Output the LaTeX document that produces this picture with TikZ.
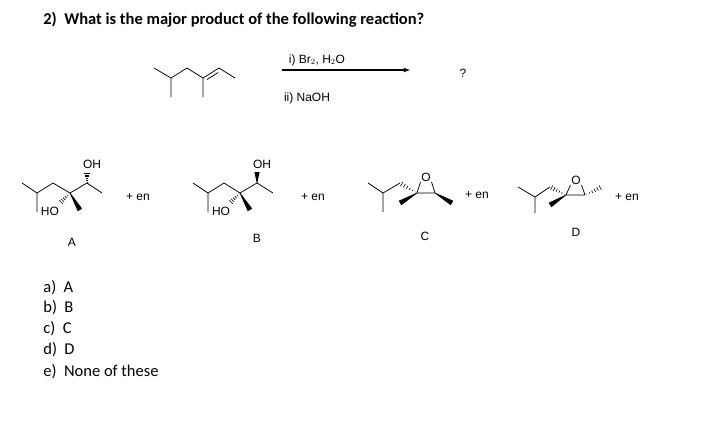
\documentclass[tikz,border=0pt]{standalone}
\usepackage{fontspec}
\setmainfont{Liberation Sans}
\newfontfamily\qfont{Carlito}
\usetikzlibrary{calc}
\newcommand\wdg[2]{\fill ($(#1)!0.3pt!90:(#2)$) -- ($(#2)!2.6pt!-90:(#1)$) -- ($(#2)!2.6pt!90:(#1)$) -- ($(#1)!0.3pt!-90:(#2)$) -- cycle;}
\newcommand\hsh[2]{\foreach \t in {0.1,0.26,0.42,0.58,0.74,0.9}{\coordinate (hh) at ($(#1)!\t!(#2)$); \draw[line width=0.6pt] ($(hh)!{\t*2.8pt}!90:(#2)$) -- ($(hh)!{\t*2.8pt}!-90:(#2)$);}}
\begin{document}
\begin{tikzpicture}[x=1pt,y=-1pt,line width=0.75pt,
  lab/.style={font=\fontsize{12}{14}\selectfont,inner sep=0.5pt},
  q/.style={font=\qfont\fontsize{16.5}{19}\selectfont,anchor=west,inner sep=0}]
\useasboundingbox[fill=white] (0,0) rectangle (705,432);
\node[q] (title) at (43,20) {\bfseries 2)\ \ What is the major product of the following reaction?};
% starting alkene
\draw (154,68) -- (171,78) -- (171,97) (171,78) -- (187,68) -- (203,78) -- (203,97) (203,78) -- (219,68) -- (235,78);
\draw ($(203,78)!0.15!(219,68)+(1.6,3)$) -- ($(219,68)!0.15!(203,78)+(1.6,3)$);
\coordinate (a1) at (282,70); \coordinate (a2) at (410,70);
\draw[line width=1.1pt,-latex] (a1) -- (a2);
\node[lab] (r1) at (317,60) {i) Br$_2$, H$_2$O};
\node[lab] (r2) at (307,98) {ii) NaOH};
\node[lab] (qm) at (463,73) {?};
% A
\draw (22,183) -- (37,193) -- (37,212) (37,193) -- (53,183) -- (70,193) -- (87,183) -- (102,193);
\coordinate (Aq) at (70,193); \coordinate (Ac) at (87,183);
\hsh{Aq}{60,203} \wdg{Aq}{80,210}
\hsh{Ac}{87,172}
\node[lab] (Aoh) at (92,164) {OH};
\node[lab] (Aho) at (50,211) {HO};
\node[lab] (Aen) at (138,197) {+ en};
\node[lab] (Al) at (72,242) {A};
% B
\draw (193,183) -- (208,193) -- (208,212) (208,193) -- (224,183) -- (240,193) -- (257,183) -- (273,193);
\coordinate (Bq) at (240,193); \coordinate (Bc) at (257,183);
\hsh{Bq}{230,203} \wdg{Bq}{250,210}
\wdg{Bc}{257,172}
\node[lab] (Boh) at (262,164) {OH};
\node[lab] (Bho) at (221,211) {HO};
\node[lab] (Ben) at (313,197) {+ en};
\node[lab] (Bl) at (257,238) {B};
% C
\draw (368,183) -- (383,193) -- (383,212) (383,193) -- (400,183);
\coordinate (C1) at (417,193); \coordinate (C2) at (435,193); \node[lab] (CO) at (426,177) {O};
\draw (C1) -- (C2) (C1) -- (CO.south west) (C2) -- (CO.south east);
\hsh{C1}{400,183} \wdg{C1}{400,203} \wdg{C2}{452,203}
\node[lab] (Cen) at (477,195) {+ en};
\node[lab] (Cl) at (425,236) {C};
% D
\draw (518,187) -- (535,197) -- (535,213) (535,197) -- (550,187);
\coordinate (D1) at (566,195); \coordinate (D2) at (585,195); \node[lab] (DO) at (576,180) {O};
\draw (D1) -- (D2) (D1) -- (DO.south west) (D2) -- (DO.south east);
\hsh{D1}{550,187} \wdg{D1}{550,205} \hsh{D2}{602,187}
\node[lab] (Den) at (627,197) {+ en};
\node[lab] (Dl) at (576,232) {D};
% answers
\node[q] (oa) at (43,288) {a)\ \ A};
\node[q] (ob) at (43,308) {b)\ \ B};
\node[q] (oc) at (43,329) {c)\ \ C};
\node[q] (od) at (43,350) {d)\ \ D};
\node[q] (oe) at (43,372) {e)\ \ None of these};
\end{tikzpicture}
\end{document}
